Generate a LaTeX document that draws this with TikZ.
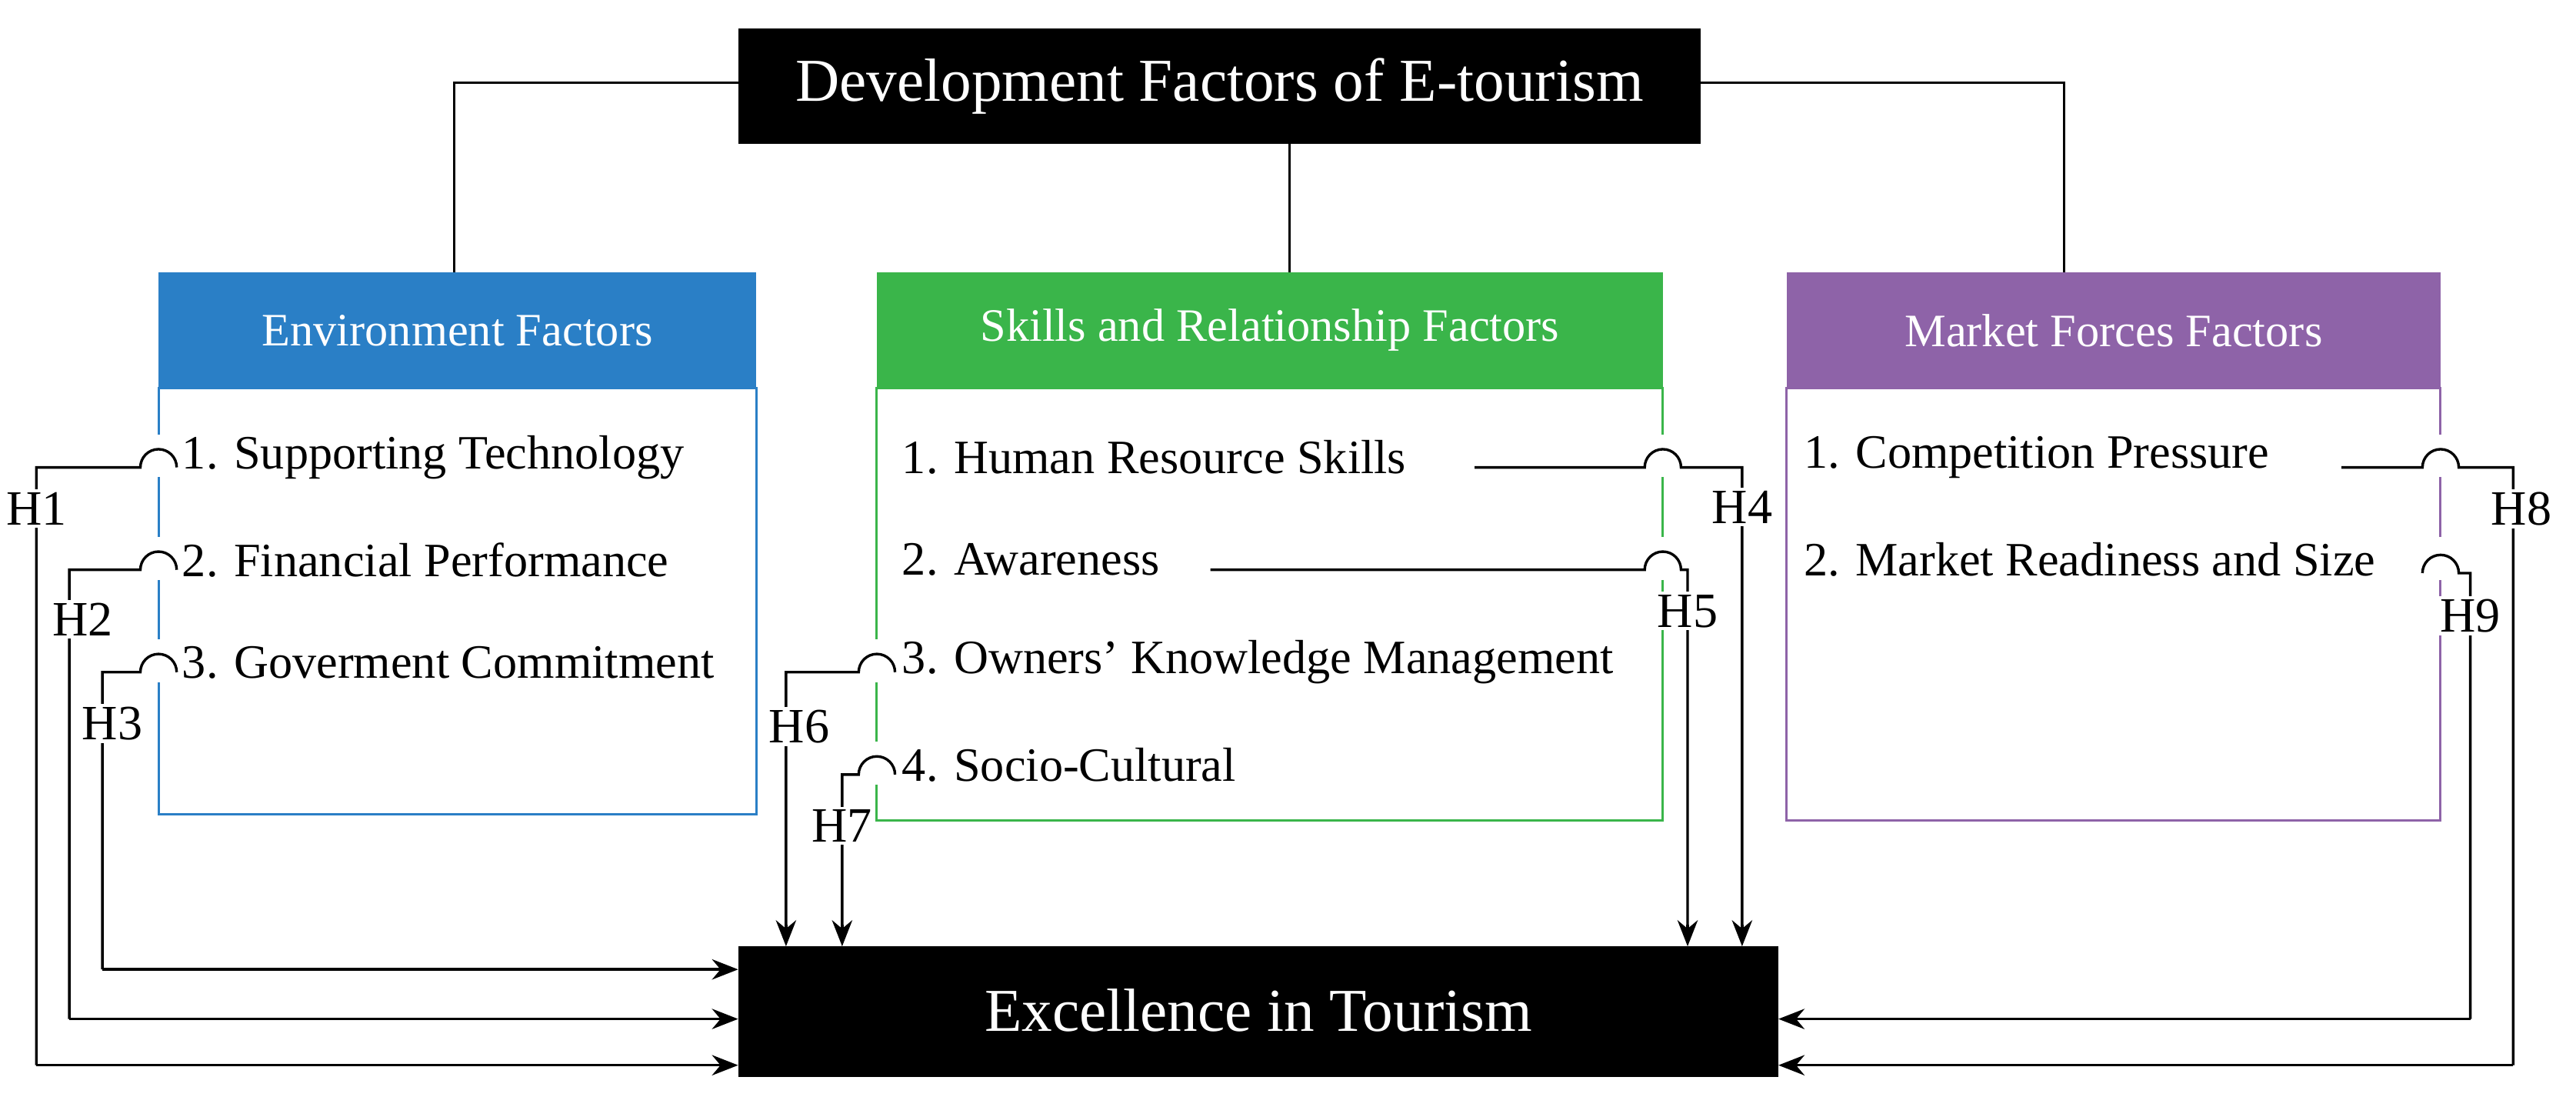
\documentclass[tikz,border=0pt]{standalone}
\usepackage{fontspec}
\setmainfont{Liberation Serif}
\usetikzlibrary{arrows.meta}
\definecolor{envc}{HTML}{2A7FC6}
\definecolor{skc}{HTML}{3AB54A}
\definecolor{mkc}{HTML}{8E63A8}
\begin{document}
\begin{tikzpicture}[x=0.2mm,y=-0.2mm,
  blk/.style={fill=black,text=white,font=\fontsize{21}{24}\selectfont},
  item/.style={anchor=west,inner sep=0pt,font=\fontsize{16.5}{20}\selectfont},
  hd/.style={text=white,font=\fontsize{16}{19}\selectfont},
  hl/.style={fill=white,inner sep=1pt,font=\fontsize{17}{20}\selectfont},
  ln/.style={line width=0.9pt},
  arr/.style={line width=0.9pt,-{Stealth[length=9pt,width=7pt]}},
  gap/.style={white,line width=5pt}]
\useasboundingbox (0,0) rectangle (1560,676);
% top and bottom boxes
\fill[black] (447,17) rectangle (1030,87);
\node[blk] (top) at (738.5,52) {Development Factors of E-tourism};
\fill[black] (447,573) rectangle (1077,652);
\node[blk] (bot) at (762,612) {Excellence in Tourism};
% group boxes
\draw[envc,line width=0.8pt] (96,235) rectangle (458,493);
\fill[envc] (96,165) rectangle (458,235);
\node[hd] (envh) at (277,200) {Environment Factors};
\draw[skc,line width=0.8pt] (531,235) rectangle (1007,497);
\fill[skc] (531,165) rectangle (1007,235);
\node[hd] (skh) at (769,200) {Skills and Relationship Factors};
\draw[mkc,line width=0.8pt] (1082,235) rectangle (1478,497);
\fill[mkc] (1082,165) rectangle (1478,235);
\node[hd] (mkh) at (1280,200) {Market Forces Factors};
% top connectors
\draw[ln] (447,50) -| (275,165);
\draw[ln] (781,87) -- (781,165);
\draw[ln] (1030,50) -| (1250,165);
% items
\node[item] (e1) at (110,277) {1. Supporting Technology};
\node[item] (e2) at (110,339) {2. Financial Performance};
\node[item] (e3) at (110,401) {3. Goverment Commitment};
\node[item] (s1) at (546,277) {1. Human Resource Skills};
\node[item] (s2) at (546,339) {2. Awareness};
\node[item] (s3) at (546,401) {3. Owners' Knowledge Management};
\node[item] (s4) at (546,463) {4. Socio-Cultural};
\node[item] (m1) at (1092,277) {1. Competition Pressure};
\node[item] (m2) at (1092,339) {2. Market Readiness and Size};
% gaps in box edges under hops
\foreach \x/\y in {96/277,96/339,96/401,531/401,531/463,1007/277,1007/339,1478/277,1478/339}
  \draw[gap] (\x,\y-14) -- (\x,\y+12);
% left hypotheses
\draw[ln] (107,283) arc[start angle=0,end angle=-180,radius=11] -- (22,283) -- (22,645);
\draw[arr] (22,645) -- (447,645);
\node[hl] (h1) at (22,308) {H1};
\draw[ln] (107,345) arc[start angle=0,end angle=-180,radius=11] -- (42,345) -- (42,617);
\draw[arr] (42,617) -- (447,617);
\node[hl] (h2) at (50,375) {H2};
\draw[ln] (107,407) arc[start angle=0,end angle=-180,radius=11] -- (62,407) -- (62,587);
\draw[arr] (62,587) -- (447,587);
\node[hl] (h3) at (68,438) {H3};
% middle left
\draw[ln] (542,407) arc[start angle=0,end angle=-180,radius=11] -- (476,407) -- (476,560);
\draw[arr] (476,560) -- (476,573);
\node[hl] (h6) at (484,440) {H6};
\draw[ln] (542,469) arc[start angle=0,end angle=-180,radius=11] -- (510,469) -- (510,560);
\draw[arr] (510,560) -- (510,573);
\node[hl] (h7) at (510,500) {H7};
% middle right
\draw[ln] (893,283) -- (996,283) arc[start angle=180,end angle=360,radius=11] -- (1055,283) -- (1055,560);
\draw[arr] (1055,560) -- (1055,573);
\node[hl] (h4) at (1055,307) {H4};
\draw[ln] (733,345) -- (996,345) arc[start angle=180,end angle=360,radius=11] -- (1022,345) -- (1022,560);
\draw[arr] (1022,560) -- (1022,573);
\node[hl] (h5) at (1022,370) {H5};
% right
\draw[ln] (1418,283) -- (1467,283) arc[start angle=180,end angle=360,radius=11] -- (1522,283) -- (1522,645);
\draw[arr] (1522,645) -- (1077,645);
\node[hl] (h8) at (1527,308) {H8};
\draw[ln] (1467,347) arc[start angle=180,end angle=360,radius=11] -- (1496,347) -- (1496,617);
\draw[arr] (1496,617) -- (1077,617);
\node[hl] (h9) at (1496,373) {H9};
\end{tikzpicture}
\end{document}
